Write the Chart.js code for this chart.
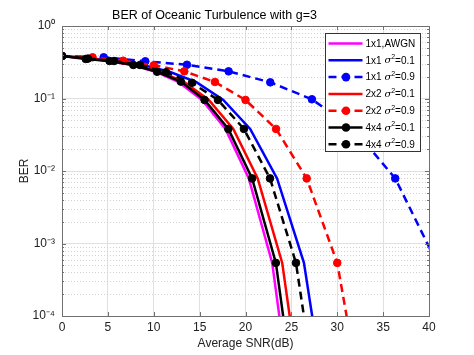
<!DOCTYPE html>
<html>
<head>
<meta charset="utf-8">
<script src="https://cdn.jsdelivr.net/npm/chart.js@4/dist/chart.umd.min.js"></script>
<style>
html,body{margin:0;padding:0;background:#fff;}
canvas{display:block;}
</style>
</head>
<body>
<canvas id="c" width="474" height="355"></canvas>
<script>
// ---- data ----
const titleText = 'BER of Oceanic Turbulence with g=3';
const xTitle = 'Average SNR(dB)';
const yTitle = 'BER';
const xTicks = [0, 5, 10, 15, 20, 25, 30, 35, 40];
const yTicks = [1e-4, 1e-3, 1e-2, 1e-1, 1];

const labels = ['1x1,AWGN', '1x1 σ²=0.1', '1x1 σ²=0.9', '2x2 σ²=0.1', '2x2 σ²=0.9', '4x4 σ²=0.1', '4x4 σ²=0.9'];

const snrAwgn   = [0, 2.55, 5.09, 7.64, 10.18, 12.73, 15.27, 17.82, 20.36, 22.91, 25.45];
const berAwgn   = [0.385, 0.36, 0.33, 0.29, 0.234, 0.168, 0.0955, 0.038, 0.0079, 0.00054, 0.0000022];
const snr1x1a   = [0, 2.93, 5.86, 8.79, 11.72, 14.65, 17.58, 20.51, 23.44, 26.37, 29.3];
const ber1x1a   = [0.385, 0.36, 0.33, 0.29, 0.234, 0.168, 0.0955, 0.038, 0.0079, 0.00054, 0.0000022];
const snr1x1b   = [0, 4.54, 9.08, 13.62, 18.16, 22.7, 27.24, 31.78, 36.32, 40.86, 45.4];
const ber1x1b   = [0.385, 0.37, 0.326, 0.292, 0.237, 0.167, 0.0975, 0.038, 0.0079, 0.00054, 0.0000022];
const snr2x2a   = [0, 2.67, 5.33, 8, 10.67, 13.33, 16, 18.67, 21.33, 24, 26.67];
const ber2x2a   = [0.385, 0.36, 0.33, 0.29, 0.234, 0.168, 0.0955, 0.038, 0.0079, 0.00054, 0.0000022];
const snr2x2b   = [0, 3.33, 6.67, 10, 13.33, 16.67, 20, 23.33, 26.67, 30, 33.33];
const ber2x2b   = [0.385, 0.37, 0.332, 0.287, 0.237, 0.169, 0.0955, 0.038, 0.0079, 0.00054, 0.0000022];
const snr4x4a   = [0, 2.59, 5.18, 7.77, 10.36, 12.95, 15.54, 18.13, 20.72, 23.31, 25.9];
const ber4x4a   = [0.385, 0.351, 0.329, 0.29, 0.234, 0.171, 0.0955, 0.038, 0.0079, 0.00054, 0.0000022];
const snr4x4b   = [0, 2.83, 5.67, 8.5, 11.33, 14.17, 17, 19.83, 22.67, 25.5, 28.33];
const ber4x4b   = [0.385, 0.355, 0.329, 0.29, 0.23, 0.165, 0.0955, 0.038, 0.0079, 0.00054, 0.0000022];

const FONT = '"Liberation Sans", Arial, Helvetica, sans-serif';

function pts(xs, ys){ return xs.map((x,i)=>({x:x, y:ys[i]})); }

function ds(i, xs, ys, color, dashed, marker){
  return {
    label: labels[i],
    data: pts(xs, ys),
    borderColor: color,
    backgroundColor: color,
    borderWidth: 2.5,
    borderDash: dashed ? [8,5] : [],
    pointRadius: marker ? 3.8 : 0,
    pointHoverRadius: marker ? 3.8 : 0,
    pointBorderWidth: 1,
    pointBackgroundColor: color,
    pointBorderColor: color,
    fill: false,
    tension: 0,
    order: 7 - i
  };
}

const datasets = [
  ds(0, snrAwgn, berAwgn, '#ff00ff', false, false),
  ds(1, snr1x1a, ber1x1a, '#0000ff', false, false),
  ds(2, snr1x1b, ber1x1b, '#0000ff', true, true),
  ds(3, snr2x2a, ber2x2a, '#ff0000', false, false),
  ds(4, snr2x2b, ber2x2b, '#ff0000', true, true),
  ds(5, snr4x4a, ber4x4a, '#000000', false, true),
  ds(6, snr4x4b, ber4x4b, '#000000', true, true)
];

const SUP = {'0':'⁰','1':'¹','2':'²','3':'³','4':'⁴','5':'⁵','-':'⁻'};
function supText(n){ return String(n).split('').map(c=>SUP[c]).join(''); }

const AXIS_COLOR = '#707070';

// minor grid, box and tick marks
const framePlugin = {
  id: 'frame',
  beforeDatasetsDraw(chart){
    const {ctx, chartArea:a, scales:{x, y}} = chart;
    ctx.save();
    ctx.strokeStyle = '#d2d2d2';
    ctx.lineWidth = 1;
    ctx.setLineDash([1,2]);
    for (let e = -4; e < 0; e++){
      for (let m = 2; m <= 9; m++){
        const py = Math.round(y.getPixelForValue(m*Math.pow(10,e))) + 0.5;
        ctx.beginPath(); ctx.moveTo(a.left, py); ctx.lineTo(a.right, py); ctx.stroke();
      }
    }
    ctx.restore();
  },
  afterDatasetsDraw(chart){
    const {ctx, chartArea:a, scales:{x, y}} = chart;
    ctx.save();
    ctx.strokeStyle = AXIS_COLOR;
    ctx.lineWidth = 1;
    ctx.setLineDash([]);
    // ticks
    ctx.beginPath();
    xTicks.forEach(v=>{
      const px = Math.round(x.getPixelForValue(v)) + 0.5;
      ctx.moveTo(px, a.bottom); ctx.lineTo(px, a.bottom-4);
      ctx.moveTo(px, a.top); ctx.lineTo(px, a.top+4);
    });
    for (let e = -4; e <= 0; e++){
      const py = Math.round(y.getPixelForValue(Math.pow(10,e))) + 0.5;
      ctx.moveTo(a.left, py); ctx.lineTo(a.left+4, py);
      ctx.moveTo(a.right, py); ctx.lineTo(a.right-4, py);
      if (e < 0) for (let m = 2; m <= 9; m++){
        const q = Math.round(y.getPixelForValue(m*Math.pow(10,e))) + 0.5;
        ctx.moveTo(a.left, q); ctx.lineTo(a.left+2, q);
        ctx.moveTo(a.right, q); ctx.lineTo(a.right-2, q);
      }
    }
    ctx.stroke();
    ctx.strokeRect(Math.round(a.left)+0.5, Math.round(a.top)+0.5, Math.round(a.right-a.left), Math.round(a.bottom-a.top));
    ctx.restore();
  },
  afterDraw(chart){
    // legend box inside plot, top right
    const {ctx} = chart;
    const bx = 325, by = 33, bw = 95, bh = 118;
    ctx.save();
    ctx.fillStyle = '#ffffff';
    ctx.fillRect(bx, by, bw, bh);
    ctx.strokeStyle = '#333333';
    ctx.lineWidth = 1;
    ctx.setLineDash([]);
    ctx.strokeRect(bx+0.5, by+0.5, bw, bh);
    const rowH = 16.8, y0 = 43.5;
    chart.data.datasets.forEach((d, i)=>{
      const cy = y0 + i*rowH;
      ctx.strokeStyle = d.borderColor;
      ctx.lineWidth = d.borderWidth;
      ctx.setLineDash(d.borderDash);
      ctx.beginPath(); ctx.moveTo(328.5, cy); ctx.lineTo(362.5, cy); ctx.stroke();
      ctx.setLineDash([]);
      if (d.pointRadius > 0){
        ctx.fillStyle = d.pointBackgroundColor;
        ctx.beginPath(); ctx.arc(346, cy, d.pointRadius+0.5, 0, Math.PI*2); ctx.fill();
      }
      // label with italic sigma and superscript 2
      ctx.fillStyle = '#000';
      ctx.textBaseline = 'middle';
      ctx.textAlign = 'left';
      let tx = 365.5;
      const lab = d.label;
      const k = lab.indexOf('σ²');
      const normal = '10px ' + FONT;
      if (k < 0){
        ctx.font = normal; ctx.fillText(lab, tx, cy+0.5);
      } else {
        const pre = lab.slice(0,k), post = lab.slice(k+2);
        ctx.font = normal; ctx.fillText(pre, tx, cy+0.5); tx += ctx.measureText(pre).width;
        ctx.font = 'italic 10px "DejaVu Serif", "Liberation Serif", serif'; ctx.fillText('σ', tx, cy+0.5); tx += ctx.measureText('σ').width;
        ctx.font = '7px ' + FONT; ctx.fillText('2', tx, cy-3); tx += ctx.measureText('2').width;
        ctx.font = normal; ctx.fillText(post, tx, cy+0.5);
      }
    });
    ctx.restore();
  }
};

new Chart(document.getElementById('c').getContext('2d'), {
  type: 'line',
  data: { datasets: datasets },
  plugins: [framePlugin],
  options: {
    responsive: false,
    animation: false,
    devicePixelRatio: 1,
    events: [],
    layout: { padding: { left: 0, right: 45, top: 0, bottom: 0 } },
    plugins: {
      legend: { display: false },
      tooltip: { enabled: false },
      title: {
        display: true, text: titleText, color: '#000',
        font: { family: FONT, size: 12.5, weight: 'normal', lineHeight: 1.2 },
        padding: { top: 8, bottom: 3 }
      }
    },
    scales: {
      x: {
        type: 'linear', min: 0, max: 40,
        afterBuildTicks(s){ s.ticks = xTicks.map(v=>({value:v})); },
        ticks: { color: '#222', font: { family: FONT, size: 12 }, padding: 4, maxRotation: 0, autoSkip: false },
        grid: { color: '#e0e0e0', drawTicks: false, lineWidth: 1 },
        border: { color: AXIS_COLOR, width: 1 },
        title: { display: true, text: xTitle, color: '#222', font: { family: FONT, size: 12, lineHeight: 1.2 }, padding: { top: 0, bottom: 4 } },
        afterFit(s){ s.height = 39; }
      },
      y: {
        type: 'logarithmic', min: 1e-4, max: 1,
        afterBuildTicks(s){ s.ticks = yTicks.map(v=>({value:v})); },
        ticks: {
          color: '#222', font: { family: FONT, size: 12 }, padding: 7, autoSkip: false,
          callback(v){ return '10' + supText(Math.round(Math.log10(v))); }
        },
        grid: { color: '#e0e0e0', drawTicks: false, lineWidth: 1 },
        border: { color: AXIS_COLOR, width: 1 },
        title: { display: true, text: yTitle, color: '#222', font: { family: FONT, size: 12, lineHeight: 1.2 }, padding: { top: 17, bottom: 0 } },
        afterFit(s){ s.width = 62; }
      }
    }
  }
});
</script>
</body>
</html>
